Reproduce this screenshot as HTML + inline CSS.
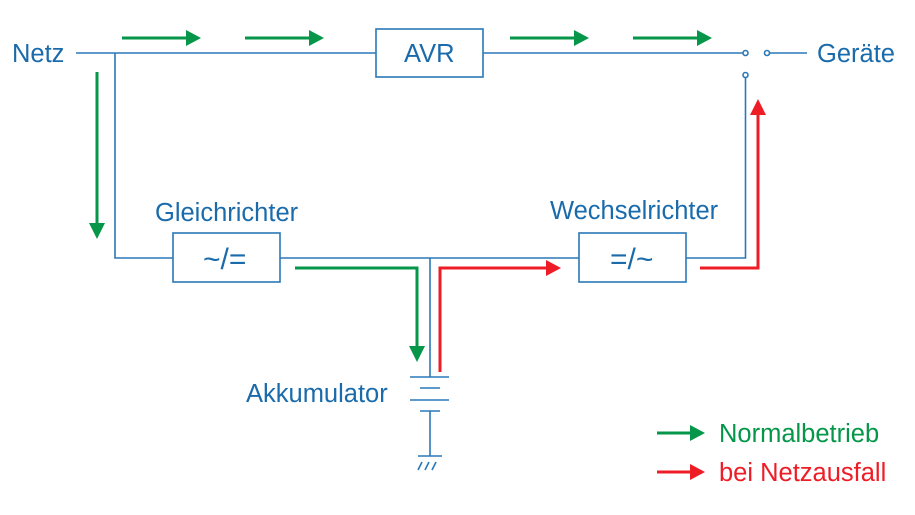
<!DOCTYPE html>
<html><head><meta charset="utf-8"><style>
html,body{margin:0;padding:0;background:#fff;width:915px;height:515px;overflow:hidden}
text{font-family:"Liberation Sans",Arial,sans-serif}
</style></head><body>
<svg width="915" height="515" viewBox="0 0 915 515" xmlns="http://www.w3.org/2000/svg">
<g stroke="#2a78b8" stroke-width="1.6" fill="none">
<line x1="76" y1="53" x2="376" y2="53"/>
<rect x="376" y="29" width="107" height="48"/>
<line x1="483" y1="53" x2="743" y2="53"/>
<circle cx="745.5" cy="53" r="2.5" fill="#fff"/>
<circle cx="767" cy="53" r="2.5" fill="#fff"/>
<line x1="769.5" y1="53" x2="807" y2="53"/>
<circle cx="745.5" cy="75" r="2.5" fill="#fff"/>
<polyline points="745.5,77.5 745.5,258 686,258"/>
<polyline points="115,53 115,258 173,258"/>
<rect x="173" y="233" width="107" height="49"/>
<rect x="579" y="233" width="107" height="49"/>
<line x1="280" y1="258" x2="579" y2="258"/>
<line x1="430" y1="258" x2="430" y2="377"/>
<line x1="410" y1="377" x2="449" y2="377"/>
<line x1="420" y1="388" x2="440" y2="388"/>
<line x1="410" y1="400" x2="449" y2="400"/>
<line x1="420" y1="411" x2="440" y2="411"/>
<line x1="430" y1="411" x2="430" y2="456"/>
<line x1="418" y1="456" x2="442" y2="456"/>
<line x1="418" y1="470" x2="422" y2="462"/>
<line x1="425" y1="470" x2="429" y2="462"/>
<line x1="432" y1="470" x2="436" y2="462"/>
</g>
<g stroke="#05964a" stroke-width="3" fill="#05964a">
<line x1="122" y1="38" x2="188" y2="38"/><polygon points="186,30 201,38 186,46" stroke="none"/>
<line x1="245" y1="38" x2="311" y2="38"/><polygon points="309,30 324,38 309,46" stroke="none"/>
<line x1="510" y1="38" x2="576" y2="38"/><polygon points="574,30 589,38 574,46" stroke="none"/>
<line x1="633" y1="38" x2="699" y2="38"/><polygon points="697,30 712,38 697,46" stroke="none"/>
<line x1="97" y1="72" x2="97" y2="226"/><polygon points="89,223 105,223 97,239" stroke="none"/>
<polyline points="295,268 417,268 417,348" fill="none"/><polygon points="409,346 425,346 417,362" stroke="none"/>
<line x1="657" y1="433" x2="692" y2="433"/><polygon points="690,425 705,433 690,441" stroke="none"/>
</g>
<g stroke="#ee1c25" stroke-width="3" fill="#ee1c25">
<polyline points="440,372 440,268 548,268" fill="none"/><polygon points="546,260 561,268 546,276" stroke="none"/>
<polyline points="700,268 758,268 758,112" fill="none"/><polygon points="750,115 766,115 758,99" stroke="none"/>
<line x1="657" y1="472" x2="692" y2="472"/><polygon points="690,464 705,472 690,480" stroke="none"/>
</g>
<g fill="#1a6bab" font-size="25.5">
<text x="12" y="62">Netz</text>
<text x="404" y="62">AVR</text>
<text x="817" y="62">Geräte</text>
<text x="155" y="221">Gleichrichter</text>
<text x="550" y="219">Wechselrichter</text>
<text x="246" y="402">Akkumulator</text>
<text x="203" y="269" font-size="30">~/=</text>
<text x="610" y="269" font-size="30">=/~</text>
</g>
<text x="719" y="442" font-size="25.5" fill="#05964a">Normalbetrieb</text>
<text x="719" y="481" font-size="25.5" fill="#ee1c25">bei Netzausfall</text>
</svg>
</body></html>
